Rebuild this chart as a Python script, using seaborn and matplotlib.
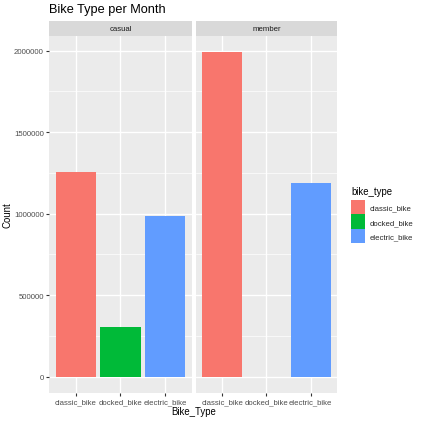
import matplotlib
matplotlib.use("Agg")
import matplotlib.pyplot as plt
import seaborn as sns
import pandas as pd
import numpy as np
from matplotlib.patches import Patch
from matplotlib.ticker import MultipleLocator

# ---- data ----
bike_types = ["classic_bike", "docked_bike", "electric_bike"]
casual_counts = [1255000, 306000, 985000]
member_counts = [1990000, 0, 1187000]
facets = ["casual", "member"]
colors = ["#F8766D", "#00BA38", "#619CFF"]
y_ticks = [0, 500000, 1000000, 1500000, 2000000]

df = pd.DataFrame({
    "member_casual": np.repeat(facets, len(bike_types)),
    "bike_type": bike_types * 2,
    "Count": casual_counts + member_counts,
})

sns.set_theme(style="white")
plt.rcParams["font.family"] = ["Liberation Sans", "DejaVu Sans"]

W, H = 431, 427
fig = plt.figure(figsize=(W / 100, H / 100), dpi=100)

def fx(px):
    return px / W

def fy(py):
    return 1 - py / H

panel_top, panel_bot = 37, 394
strip_top = 22.3
panels_x = [(49.3, 191.7), (195.7, 337.3)]
ymax = max(casual_counts + member_counts)
ylim = (-0.05 * ymax, 1.05 * ymax)
pal = dict(zip(bike_types, colors))
tick_fs = 5.6

for i, (facet, (x0, x1)) in enumerate(zip(facets, panels_x)):
    ax = fig.add_axes([fx(x0), fy(panel_bot), fx(x1) - fx(x0), fy(panel_top) - fy(panel_bot)])
    sub = df[df["member_casual"] == facet]
    sns.barplot(data=sub, x="bike_type", y="Count", hue="bike_type", order=bike_types,
                hue_order=bike_types, palette=pal, width=0.9, ax=ax, legend=False,
                saturation=1, edgecolor="none", linewidth=0, zorder=3)
    ax.set_facecolor("#EBEBEB")
    ax.set_xlim(-0.6, 2.6)
    ax.set_ylim(*ylim)
    ax.yaxis.set_major_locator(MultipleLocator(500000))
    ax.yaxis.set_minor_locator(MultipleLocator(250000))
    ax.grid(True, which="major", color="white", linewidth=1.0, zorder=0)
    ax.grid(True, which="minor", axis="y", color="white", linewidth=0.5, zorder=0)
    ax.set_axisbelow(True)
    for s in ax.spines.values():
        s.set_visible(False)
    ax.tick_params(axis="both", which="major", length=2.5, width=0.8, color="#333333",
                   labelsize=tick_fs, labelcolor="#4D4D4D", pad=1.5, bottom=True, left=True)
    ax.tick_params(axis="y", which="minor", length=0)
    ax.set_xlabel("")
    ax.set_ylabel("")
    if i == 0:
        ax.set_yticks(y_ticks)
        ax.set_yticklabels([str(v) for v in y_ticks])
    else:
        ax.tick_params(axis="y", which="major", left=False, labelleft=False)
    # strip
    sax = fig.add_axes([fx(x0), fy(panel_top), fx(x1) - fx(x0), fy(strip_top) - fy(panel_top)])
    sax.set_facecolor("#D9D9D9")
    sax.set_xticks([]); sax.set_yticks([])
    for s in sax.spines.values():
        s.set_visible(False)
    sax.text(0.5, 0.5, facet, ha="center", va="center", fontsize=tick_fs, color="#1A1A1A",
             transform=sax.transAxes)

fig.text(fx(49), fy(10), "Bike Type per Month", ha="left", va="center", fontsize=9.2, color="black")
fig.text(fx(193.5), fy(412), "Bike_Type", ha="center", va="center", fontsize=6.9, color="black")
fig.text(fx(8), fy(215.5), "Count", ha="center", va="center", rotation=90, fontsize=6.9, color="black")

# legend
fig.text(fx(351), fy(192), "bike_type", ha="left", va="center", fontsize=6.9, color="black")
handles = [Patch(facecolor=c, edgecolor="none", label=b) for b, c in zip(bike_types, colors)]
leg = fig.legend(handles=handles, loc="upper left",
                 bbox_to_anchor=(fx(351), fy(200.7)), frameon=False, fontsize=tick_fs,
                 handlelength=1.8, handleheight=2.5, labelspacing=0.0,
                 handletextpad=0.65, borderpad=0, borderaxespad=0)

fig.savefig("out.png", dpi=100)
